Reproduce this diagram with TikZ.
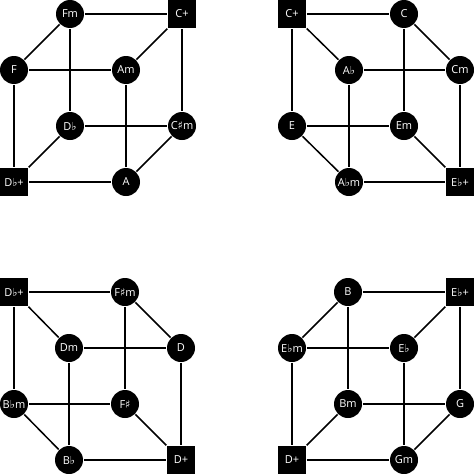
\documentclass[tikz,border=0pt]{standalone}
\usepackage{fontspec}
\setmainfont{Open Sans}
\newfontfamily\symfont{DejaVu Sans}
\newcommand{\flt}{{\symfont\fontsize{11}{11}\selectfont ♭}}
\newcommand{\shp}{{\symfont\fontsize{11}{11}\selectfont ♯}}
\usetikzlibrary{positioning}

\begin{document}
\begin{tikzpicture}[x=1pt,y=-1pt,line width=1.5pt,
                chord node/.style={circle,fill=black,text=white,inner sep=0pt,minimum size=28pt,font=\fontsize{11}{11}\selectfont},
                aug node/.style={rectangle,fill=black,text=white,inner sep=0pt,minimum size=28pt,font=\fontsize{11}{11}\selectfont}]
  \useasboundingbox (0,0) rectangle (474,474);

  % top left
  \node[chord node] (1) at (70,14) {Fm};
  \node[aug node]   (2) at (182,14) {C+};
  \node[chord node] (3) at (14,70) {F};
  \node[chord node] (4) at (126,70) {Am};
  \node[chord node] (5) at (70,126) {D\flt};
  \node[chord node] (6) at (182,126) {C\shp m};
  \node[aug node]   (7) at (14,182) {D\flt+};
  \node[chord node] (8) at (126,182) {A};

  % top right
  \node[aug node]   (9) at (292,14) {C+};
  \node[chord node] (10) at (404,14) {C};
  \node[chord node] (11) at (349,70) {A\flt};
  \node[chord node] (12) at (460,70) {Cm};
  \node[chord node] (13) at (292,126) {E};
  \node[chord node] (14) at (404,126) {Em};
  \node[chord node] (15) at (349,182) {A\flt m};
  \node[aug node]   (16) at (460,182) {E\flt+};

  % bottom left
  \node[aug node]   (17) at (14,292) {D\flt+};
  \node[chord node] (18) at (125,292) {F\shp m};
  \node[chord node] (19) at (69,348) {Dm};
  \node[chord node] (20) at (181,348) {D};
  \node[chord node] (21) at (14,404) {B\flt m};
  \node[chord node] (22) at (125,404) {F\shp};
  \node[chord node] (23) at (69,460) {B\flt};
  \node[aug node]   (24) at (181,460) {D+};

  % bottom right
  \node[chord node] (25) at (348,292) {B};
  \node[aug node]   (26) at (460,292) {E\flt+};
  \node[chord node] (27) at (292,348) {E\flt m};
  \node[chord node] (28) at (404,348) {E\flt};
  \node[chord node] (29) at (348,404) {Bm};
  \node[chord node] (30) at (460,404) {G};
  \node[aug node]   (31) at (292,460) {D+};
  \node[chord node] (32) at (404,460) {Gm};

  \path
    (1) edge (2) (1) edge (3) (1) edge (5)
    (2) edge (4) (2) edge (6)
    (3) edge (4) (3) edge (7)
    (4) edge (8) (5) edge (6) (5) edge (7)
    (6) edge (8) (7) edge (8)
    (9) edge (10) (9) edge (11) (9) edge (13)
    (10) edge (12) (10) edge (14)
    (11) edge (12) (11) edge (15)
    (12) edge (16) (13) edge (14) (13) edge (15)
    (14) edge (16) (15) edge (16)
    (17) edge (18) (17) edge (19) (17) edge (21)
    (18) edge (20) (18) edge (22)
    (19) edge (20) (19) edge (23)
    (20) edge (24) (21) edge (22) (21) edge (23)
    (22) edge (24) (23) edge (24)
    (25) edge (26) (25) edge (27) (25) edge (29)
    (26) edge (28) (26) edge (30)
    (27) edge (28) (27) edge (31)
    (28) edge (32) (29) edge (30) (29) edge (31)
    (30) edge (32) (31) edge (32)
  ;
\end{tikzpicture}
\end{document}
